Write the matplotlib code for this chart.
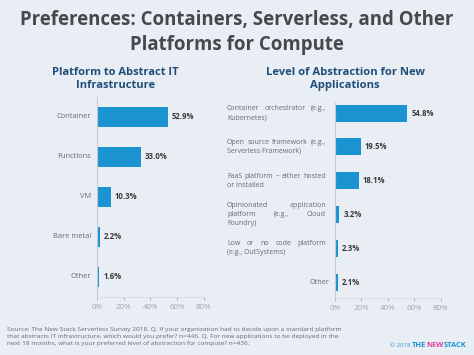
"""Preferences for compute platforms, The New Stack Serverless Survey 2018."""

import matplotlib.pyplot as plt
from matplotlib.ticker import FuncFormatter
from matplotlib.transforms import blended_transform_factory

plt.rcParams["font.family"] = ["Open Sans", "DejaVu Sans"]

BG = "#e9eef5"
BAR = "#1b93d1"
NAVY = "#1f4e79"
GREY = "#666b70"

left_labels = ["Container", "Functions", "VM", "Bare metal", "Other"]
left_values = [52.9, 33.0, 10.3, 2.2, 1.6]

right_labels = [
    "Container orchestrator (e.g.,\nKubernetes)",
    "Open source framework (e.g.,\nServerless Framework)",
    "FaaS platform \u2013 either hosted\nor installed",
    "Opinionated application\nplatform (e.g., Cloud\nFoundry)",
    "Low or no code platform\n(e.g., OutSystems)",
    "Other",
]
right_values = [54.8, 19.5, 18.1, 3.2, 2.3, 2.1]

ticks = [0, 20, 40, 60, 80]


def style_axis(ax, n, top_pad, bottom_pad):
    ax.set_facecolor(BG)
    ax.set_xlim(0, 80)
    ax.set_ylim(n - 1 + bottom_pad, -top_pad)
    ax.set_xticks(ticks)
    ax.xaxis.set_major_formatter(FuncFormatter(lambda v, _: f"{v:.0f}%"))
    ax.tick_params(axis="x", labelsize=5.8, colors="#a0a6ad", length=2, width=0.6, pad=3)
    ax.set_yticks([])
    for side in ("top", "right"):
        ax.spines[side].set_visible(False)
    ax.spines["left"].set_color("#c4cad1")
    ax.spines["bottom"].set_color("#d4d9df")
    ax.spines["left"].set_linewidth(0.8)
    ax.spines["bottom"].set_linewidth(0.6)


def value_labels(ax, values):
    for i, v in enumerate(values):
        ax.text(v + 3, i, f"{v:.1f}%", va="center", ha="left", fontsize=5.6,
                fontweight="bold", color="#3a3a3a")


def justified(fig, ax, y, label, x0, x1, size, line_h):
    # x0, x1 in figure pixels; every line but the last is stretched to full width
    renderer = fig.canvas.get_renderer()
    lines = label.split("\n")
    trans = blended_transform_factory(fig.transFigure, ax.transData)
    W = fig.bbox.width
    y_off = (len(lines) - 1) / 2.0
    for k, line in enumerate(lines):
        yy = y + (k - y_off) * line_h
        words = line.split(" ")
        if k == len(lines) - 1 or len(words) == 1:
            fig.text(x0 / W, yy, line, transform=trans, ha="left", va="center",
                     fontsize=size, color=GREY)
            continue
        texts = [fig.text(0, yy, w, transform=trans, ha="left", va="center",
                          fontsize=size, color=GREY) for w in words]
        widths = [t.get_window_extent(renderer).width for t in texts]
        gap = max((x1 - x0 - sum(widths)) / (len(words) - 1), 1.5)
        x = x0
        for t, w in zip(texts, widths):
            t.set_x(x / W)
            x += w + gap


fig = plt.figure(figsize=(4.74, 3.55), dpi=100, facecolor=BG)

fig.text(0.5, 0.944, "Preferences: Containers, Serverless, and Other",
         ha="center", va="center", fontsize=13.4, fontweight="bold", color="#45494e")
fig.text(0.5, 0.873, "Platforms for Compute",
         ha="center", va="center", fontsize=13.4, fontweight="bold", color="#45494e")

fig.text(0.243, 0.778, "Platform to Abstract IT\nInfrastructure", ha="center", va="center",
         fontsize=8.0, fontweight="bold", color=NAVY, linespacing=1.2)
fig.text(0.728, 0.778, "Level of Abstraction for New\nApplications", ha="center", va="center",
         fontsize=8.1, fontweight="bold", color=NAVY, linespacing=1.2)

ax1 = fig.add_axes([0.2046, 0.1634, 0.2254, 0.5636])
ax1.barh(range(len(left_values)), left_values, height=0.5, color=BAR)
style_axis(ax1, len(left_values), 0.5, 0.5)
value_labels(ax1, left_values)
for i, lab in enumerate(left_labels):
    ax1.text(-4.5, i, lab, ha="right", va="center", fontsize=5.4, color=GREY)

ax2 = fig.add_axes([0.7068, 0.1606, 0.2232, 0.5493])
ax2.barh(range(len(right_values)), right_values, height=0.5, color=BAR)
style_axis(ax2, len(right_values), 0.3, 0.47)
value_labels(ax2, right_values)
for i, lab in enumerate(right_labels):
    if lab == "Other":
        ax2.text(-4.5, i, lab, ha="right", va="center", fontsize=5.2, color=GREY)
    else:
        justified(fig, ax2, i, lab, 227, 326, 5.0, 0.27)

source = ("Source: The New Stack Serverless Survey 2018. Q. If your organization had to decide upon a standard platform\n"
          "that abstracts IT infrastructure, which would you prefer? n=446. Q. For new applications to be deployed in the\n"
          "next 18 months, what is your preferred level of abstraction for compute? n=436.")
fig.text(0.015, 0.051, source, ha="left", va="center", fontsize=4.65, color=GREY, linespacing=1.5)

# logo pieces, right edge of the last piece at x=466 px
renderer = fig.canvas.get_renderer()
pieces = [("\u00a9 2018 ", 4.4, "normal", "#3a8fd0"),
          ("THE", 5.4, "bold", "#1b93d1"),
          ("NEW", 5.4, "bold", "#e0409a"),
          ("STACK", 5.4, "bold", "#1b93d1")]
logo = [fig.text(0, 0.027, txt, ha="left", va="center", fontsize=size,
                 fontweight=weight, color=color) for txt, size, weight, color in pieces]
widths = [t.get_window_extent(renderer).width for t in logo]
x = 466 - sum(widths)
for t, w in zip(logo, widths):
    t.set_x(x / fig.bbox.width)
    x += w

fig.savefig("out.png", dpi=100, facecolor=BG)
